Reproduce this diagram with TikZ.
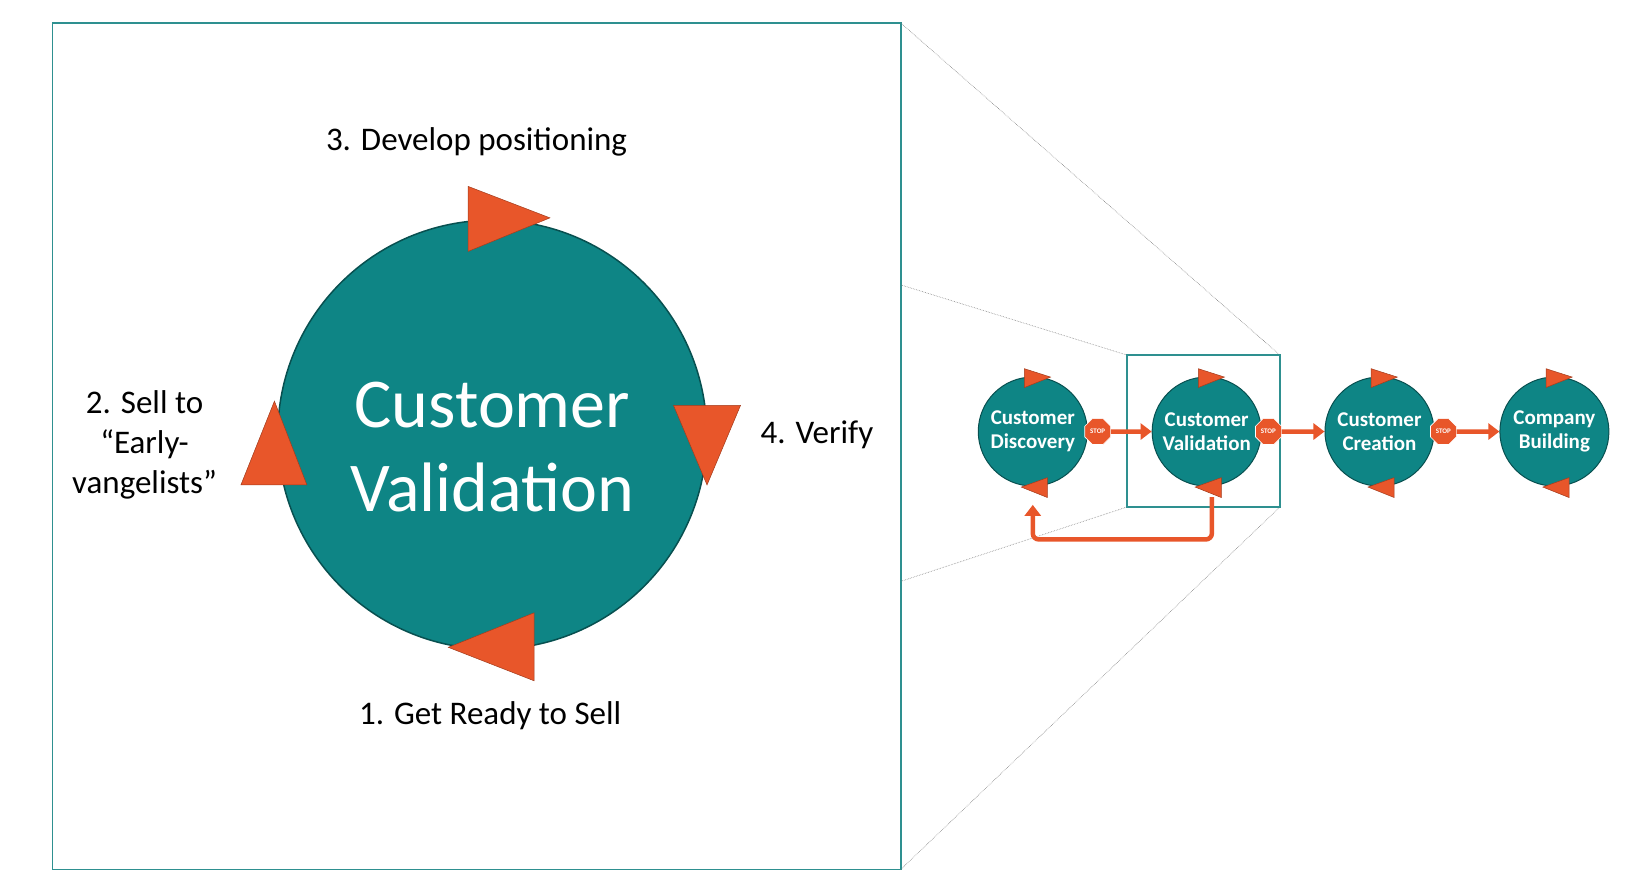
\documentclass[tikz,border=0pt]{standalone}
\usepackage{fontspec}
\setmainfont{Carlito}
\usetikzlibrary{shapes.geometric,arrows.meta}
\definecolor{teal1}{HTML}{0E8585}
\definecolor{tealb}{HTML}{2E9090}
\definecolor{org}{HTML}{E8562A}
\begin{document}
\begin{tikzpicture}[x=1.0474pt,y=-1.0474pt,
  tri/.style={fill=org,draw=org!70!black,line width=0.5pt},
  big/.style={circle,fill=teal1,draw=teal1!60!black,line width=1.5pt,minimum size=429pt,inner sep=0},
  small/.style={circle,fill=teal1,draw=teal1!60!black,line width=1pt,minimum size=109pt,inner sep=0,text=white,font=\fontsize{21}{24}\selectfont\bfseries,align=center},
  lbl/.style={font=\fontsize{33}{40}\selectfont,align=center},
  dot/.style={gray,densely dotted,line width=0.6pt},
  stop/.style={regular polygon,regular polygon sides=8,fill=org,draw=white,line width=0.6pt,minimum size=28pt,inner sep=0,text=white,font=\fontsize{7}{7}\selectfont\bfseries},
  fl/.style={org,line width=4.5pt,-{Triangle[length=11pt,width=16pt]}}]
\useasboundingbox (0,0) rectangle (1560,843);
\draw[tealb,line width=1.5pt] (50,22) rectangle (860,830);
\node[big] (bc) at (470,415) {};
\node[text=white,font=\fontsize{70}{84}\selectfont,align=center] (bt) at (470,427) {Customer\\Validation};
\filldraw[tri] (447,178) -- (447,240) -- (525,208) -- cycle;
\filldraw[tri] (643,387) -- (707,387) -- (675,463) -- cycle;
\filldraw[tri] (510,585) -- (510,650) -- (428,618) -- cycle;
\filldraw[tri] (230,463) -- (293,463) -- (262,383) -- cycle;
\node[lbl] (l3) at (455,135) {3. Develop positioning};
\node[lbl] (l2) at (138,425) {2. Sell to\\“Early-\\vangelists”};
\node[lbl] (l4) at (780,415) {4. Verify};
\node[lbl] (l1) at (468,683) {1. Get Ready to Sell};
\coordinate (a1) at (860,22); \coordinate (a2) at (860,272);
\coordinate (a3) at (860,555); \coordinate (a4) at (860,830);
\coordinate (b1) at (1222,339); \coordinate (b2) at (1076,339);
\coordinate (b3) at (1076,484); \coordinate (b4) at (1222,484);
\draw[dot] (a1)--(b1); \draw[dot] (a2)--(b2); \draw[dot] (a3)--(b3); \draw[dot] (a4)--(b4);
\draw[tealb,line width=1.5pt] (b2) rectangle (b4);
\foreach \n/\x/\t in {c1/986/Customer\\Discovery,c2/1152/Customer\\Validation,c3/1317/Customer\\Creation,c4/1484/Company\\Building}{
  \node[small] (\n) at (\x,412) {\t};
  \filldraw[tri] (\x-8,352) -- (\x-8,370) -- (\x+17,360) -- cycle;
  \filldraw[tri] (\x+14,456) -- (\x+14,475) -- (\x-11,465) -- cycle;
}
\node[stop] (s1) at (1048,412) {STOP};
\node[stop] (s2) at (1211,412) {STOP};
\node[stop] (s3) at (1378,412) {STOP};
\draw[fl] (s1) -- (c2);
\draw[fl] (s2) -- (c3);
\draw[fl] (s3) -- (c4);
\draw[org,line width=4.5pt,rounded corners=6pt,-{Triangle[length=11pt,width=16pt]}] (c2.south) ++(5,10) coordinate (f0) -- (1157,515) -- (986,515) -- (986,482);
\end{tikzpicture}
\end{document}
